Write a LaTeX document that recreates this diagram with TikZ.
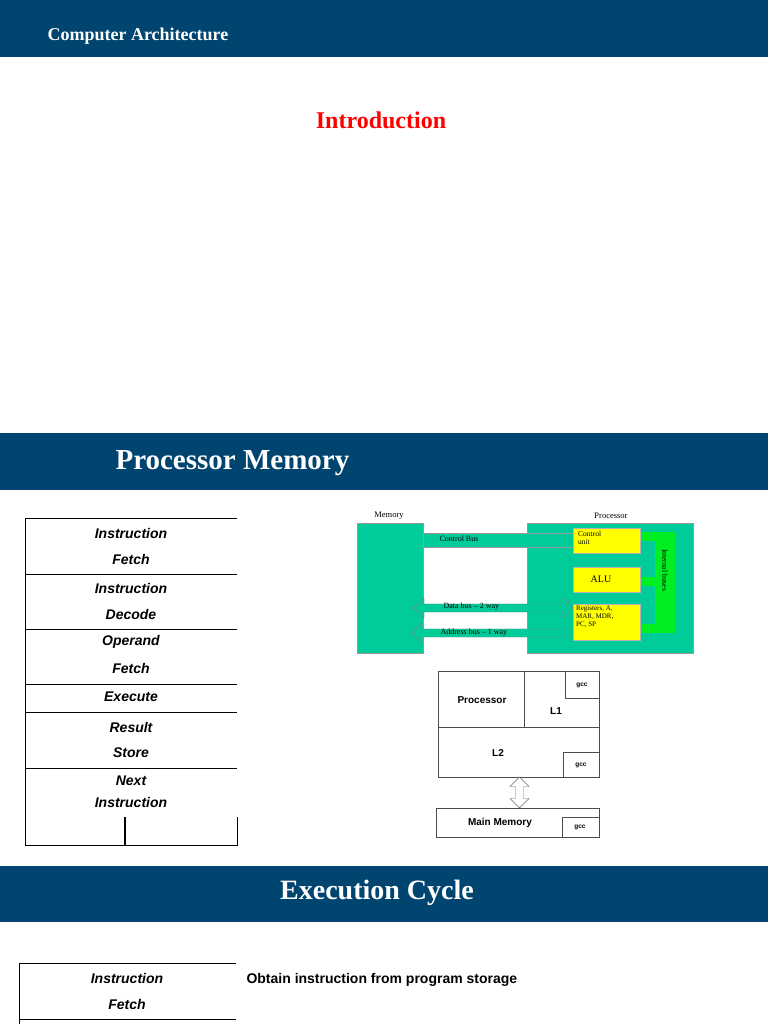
\documentclass[tikz,border=0pt]{standalone}
\usepackage{fontspec}
\setmainfont{Liberation Serif}
\setsansfont{Liberation Sans}
\usetikzlibrary{shapes.arrows}
\definecolor{hdr}{HTML}{004570}
\definecolor{teal}{HTML}{00CC99}
\definecolor{yel}{HTML}{FFFF00}
\definecolor{grn}{HTML}{00EE22}
\tikzset{
 bar/.style={fill=hdr,draw=none},
 tcell/.style={font=\sffamily\bfseries\itshape\fontsize{14}{16}\selectfont,anchor=center},
 diag/.style={font=\rmfamily\fontsize{8}{9}\selectfont,anchor=west},
 cbox/.style={draw=black!70,line width=0.6pt},
 ctext/.style={font=\sffamily\bfseries\fontsize{10}{12}\selectfont},
 gtext/.style={font=\sffamily\bfseries\fontsize{6.5}{8}\selectfont},
 tline/.style={line width=0.7pt}
}
\begin{document}
\begin{tikzpicture}[x=1pt,y=-1pt]
\useasboundingbox (0,0) rectangle (768,1024);
% header bars
\fill[bar] (0,0) rectangle (768,57);
\fill[bar] (0,433) rectangle (768,490);
\fill[bar] (0,866) rectangle (768,922);
\node[anchor=west,text=white,font=\bfseries\fontsize{18}{20}\selectfont] (h1) at (44,36) {Computer Architecture};
\node[text=red,font=\bfseries\fontsize{24}{28}\selectfont] (intro) at (381,120) {Introduction};
\node[anchor=west,text=white,font=\bfseries\fontsize{29}{32}\selectfont] (h2) at (112,463) {Processor Memory};
\node[text=white,font=\bfseries\fontsize{28}{32}\selectfont] (h3) at (377,893) {Execution Cycle};
% left table
\draw[tline] (237,518) -- (25,518) -- (25,845) -- (237,845) -- (237,817);
\foreach \yy in {574,629,684,712,768} \draw[tline] (25,\yy) -- (237,\yy);
\draw[line width=2pt] (125,817) -- (125,845);
\node[tcell] (a1) at (131,533) {Instruction};
\node[tcell] (a2) at (131,559) {Fetch};
\node[tcell] (b1) at (131,588) {Instruction};
\node[tcell] (b2) at (131,614) {Decode};
\node[tcell] (c1) at (131,642) {Operand};
\node[tcell] (c2) at (131,668) {Fetch};
\node[tcell] (d1) at (131,697) {Execute};
\node[tcell] (e1) at (131,727) {Result};
\node[tcell] (e2) at (131,753) {Store};
\node[tcell] (f1) at (131,781) {Next};
\node[tcell] (f2) at (131,802) {Instruction};
% bottom table
\draw[tline] (236,963) -- (19,963) -- (19,1024);
\draw[tline] (19,1019) -- (236,1019);
\node[tcell] (g1) at (127,978) {Instruction};
\node[tcell] (g2) at (127,1004) {Fetch};
\node[anchor=west,font=\sffamily\bfseries\fontsize{14}{16}\selectfont] (obt) at (243,980) {Obtain instruction from program storage};
% processor memory diagram
\fill[teal,draw=black!40] (357,523) rectangle (423,653);
\fill[teal,draw=black!40] (527,523) rectangle (693,653);
\fill[teal,draw=black!40] (423,533) rectangle (575,547);
\node[font=\rmfamily\fontsize{8.5}{9}\selectfont] (memlab) at (389,516) {Memory};
\node[font=\rmfamily\fontsize{8.5}{9}\selectfont] (proclab) at (611,516) {Processor};
\node[diag] (cbus) at (436,539) {Control Bus};
% internal buses
\fill[grn] (655,532) rectangle (675,633);
\fill[grn] (640,532) rectangle (675,541);
\fill[grn] (640,577) rectangle (675,586);
\fill[grn] (640,624) rectangle (675,633);
\node[rotate=-90,font=\rmfamily\fontsize{7.5}{8}\selectfont] (ib) at (665,570) {Internal buses};
\node[fill=yel,draw=black!30,minimum width=67pt,minimum height=25pt,anchor=north west,inner sep=0] (cu) at (573,528) {};
\node[anchor=north west,font=\rmfamily\fontsize{7.5}{8}\selectfont,align=left,inner sep=1pt] at (577,530) {Control\\unit};
\node[fill=yel,draw=black!30,minimum width=67pt,minimum height=25pt,anchor=north west,inner sep=0] (alu) at (573,567) {};
\node[font=\rmfamily\fontsize{10}{11}\selectfont] at (601,579) {ALU};
\node[fill=yel,draw=black!30,minimum width=67pt,minimum height=36pt,anchor=north west,inner sep=0] (reg) at (573,604) {};
\node[anchor=north west,font=\rmfamily\fontsize{7}{8}\selectfont,align=left,inner sep=1pt] at (575,605) {Registers, A,\\MAR, MDR,\\PC, SP};
\node[double arrow,fill=teal,draw=black!50,minimum height=159pt,minimum width=20pt,double arrow head extend=4pt,inner sep=2.5pt] (dbus) at (493.5,608) {};
\node[diag] at (440,607) {Data bus -- 2 way};
\node[single arrow,shape border rotate=180,fill=teal,draw=black!50,minimum height=159pt,minimum width=20pt,single arrow head extend=4pt,inner sep=2.5pt] (abus) at (493.5,633) {};
\node[diag] at (437,633) {Address bus -- 1 way};
% cache diagram
\draw[cbox] (438,671) rectangle (599,777);
\draw[cbox] (438,727) -- (599,727);
\draw[cbox] (524,671) -- (524,727);
\draw[cbox] (565,671) rectangle (599,698);
\draw[cbox] (563,752) rectangle (599,777);
\node[ctext] (pr) at (482,700) {Processor};
\node[ctext] (l1) at (556,711) {L1};
\node[ctext] (l2) at (498,753) {L2};
\node[gtext] at (582,685) {gcc};
\node[gtext] at (581,765) {gcc};
\draw[cbox] (436,808) rectangle (599,837);
\draw[cbox] (562,817) rectangle (599,837);
\node[ctext] (mm) at (500,823) {Main Memory};
\node[gtext] at (580,827) {gcc};
\node[double arrow,rotate=90,draw=black!60,fill=white,minimum height=31pt,minimum width=19pt,double arrow head extend=3pt,inner sep=2pt] (cachearr) at (519.5,792.5) {};
\end{tikzpicture}
\end{document}
